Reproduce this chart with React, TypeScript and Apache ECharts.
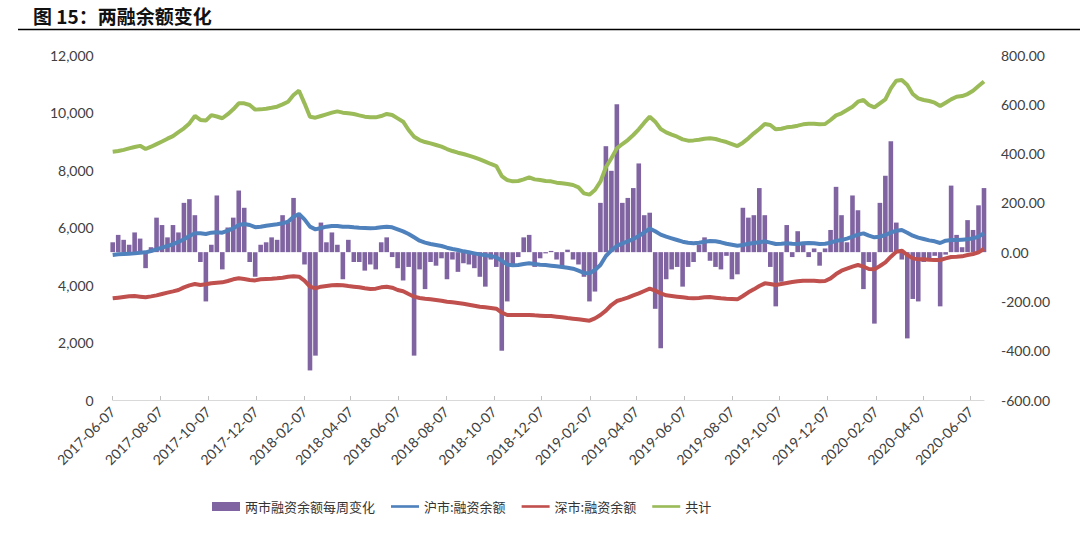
import React, { useEffect, useRef } from "react";
import * as echarts from "echarts";

// Weekly observations, first week 2017-06-07, one value every 7 calendar days.
const FIRST_WEEK = [2017, 6, 7];

// 两市融资余额每周变化 (right axis, 亿元)
const weeklyChange = [
  40, 70, 50, 30, 80, 55, -65, 20, 140, 110, 60, 110, 80, 200, 215, 150, -40, -200, 30, 230, -70, 100, 140, 250, 180, -40, -100,
  30, 40, 60, 50, 150, 120, 220, 150, -50, -480, -420, 120, 40, 80, 30, -110, 50, -40, -40, -75, -50, -70, 40, 60, -20, -65, -115,
  -60, -420, -70, -150, -40, -55, -25, -110, -30, -80, -45, -50, -65, -100, -140, -30, -60, -400, -200, -50, -20, 60, 70, -60, -25, -5,
  5, -30, -60, 10, -30, -50, -100, -200, -160, 200, 430, 330, 600, 200, 220, 260, 360, 150, 160, -230, -390, -110, -70, -60, -140, -60, -40,
  30, 60, -35, -60, -70, -15, -110, -90, 180, 140, 150, 260, 150, -60, -220, -120, 110, -20, 85, 30, -20, 15, -55, 15, 90, 265,
  150, 40, 230, 170, -150, -40, -290, 200, 310, 450, 120, -30, -350, -190, -200, -40, -30, -15, -220, -10, 270, 70, 20, 130, 90, 190, 260,
];

// 沪市:融资余额 (left axis, 亿元)
const shBalance = [
  5043, 5066, 5078, 5090, 5100, 5124, 5136, 5182, 5240, 5298, 5356, 5426, 5496, 5589, 5705, 5798, 5798, 5775, 5820, 5832, 5820, 5890, 5971, 6087, 6122, 6087, 6010,
  6029, 6064, 6087, 6110, 6145, 6203, 6376, 6469, 6284, 6029, 5936, 5983, 6029, 6052, 6052, 6029, 6029, 6006, 5994, 5983, 5971, 5983, 6006, 6029, 6006, 5936, 5866,
  5774, 5658, 5542, 5473, 5426, 5391, 5356, 5298, 5252, 5217, 5171, 5136, 5101, 5066, 5032, 5009, 4962, 4846, 4707, 4684, 4695, 4730, 4753, 4730, 4707, 4695,
  4672, 4649, 4626, 4602, 4568, 4498, 4417, 4405, 4521, 4695, 5009, 5206, 5356, 5449, 5519, 5600, 5705, 5832, 5960, 5867, 5751, 5681, 5623, 5565, 5507, 5472, 5449,
  5472, 5507, 5530, 5519, 5484, 5437, 5403, 5368, 5391, 5437, 5461, 5484, 5519, 5472, 5426, 5437, 5449, 5437, 5426, 5449, 5461, 5449, 5426, 5437, 5472, 5535,
  5565, 5612, 5681, 5751, 5797, 5716, 5658, 5681, 5739, 5820, 5890, 5913, 5820, 5716, 5646, 5600, 5553, 5519, 5461, 5542, 5565, 5565, 5577, 5588, 5623, 5681, 5800,
];

// 深市:融资余额 (left axis, 亿元)
const szBalance = [
  3536, 3559, 3582, 3605, 3617, 3594, 3571, 3605, 3640, 3687, 3733, 3779, 3826, 3919, 3988, 4035, 4000, 4023, 4058, 4081, 4093, 4139, 4197, 4232, 4209, 4174, 4160,
  4197, 4209, 4220, 4232, 4255, 4290, 4302, 4290, 4151, 3942, 3884, 3942, 3965, 3988, 4000, 3988, 3965, 3942, 3919, 3884, 3861, 3872, 3919, 3942, 3907, 3826, 3785,
  3687, 3594, 3548, 3524, 3501, 3478, 3455, 3420, 3397, 3374, 3351, 3316, 3281, 3246, 3223, 3200, 3176, 3037, 2956, 2956, 2956, 2956, 2956, 2944, 2933, 2920,
  2921, 2898, 2875, 2851, 2828, 2805, 2782, 2759, 2840, 2956, 3107, 3304, 3443, 3501, 3559, 3640, 3710, 3791, 3872, 3803, 3710, 3640, 3617, 3594, 3571, 3548, 3536,
  3548, 3571, 3582, 3559, 3536, 3524, 3513, 3501, 3617, 3745, 3849, 3965, 4058, 4035, 4000, 4035, 4070, 4104, 4128, 4151, 4151, 4151, 4128, 4139, 4232, 4380,
  4498, 4568, 4637, 4695, 4637, 4556, 4544, 4660, 4788, 4985, 5159, 5194, 5043, 4927, 4892, 4892, 4880, 4869, 4869, 4927, 4974, 4985, 4997, 5043, 5078, 5136, 5260,
];

// 共计 (left axis, 亿元)
const totalBalance = [
  8636, 8660, 8700, 8750, 8800, 8840, 8730, 8810, 8900, 8990, 9090, 9180, 9320, 9450, 9620, 9880, 9740, 9720, 9910, 9860, 9800, 9940, 10110, 10320, 10320, 10260, 10100,
  10109, 10133, 10167, 10202, 10283, 10376, 10608, 10759, 10318, 9855, 9820, 9878, 9936, 9994, 10040, 9994, 9971, 9948, 9901, 9855, 9832, 9832, 9878, 9948, 9913, 9797, 9681,
  9391, 9159, 9043, 8973, 8927, 8869, 8811, 8730, 8660, 8602, 8556, 8498, 8440, 8371, 8290, 8209, 8139, 7790, 7651, 7605, 7617, 7674, 7744, 7674, 7651, 7620,
  7605, 7559, 7536, 7513, 7478, 7397, 7188, 7142, 7304, 7594, 8093, 8406, 8753, 8904, 9043, 9217, 9414, 9646, 9855, 9681, 9426, 9310, 9229, 9159, 9066, 9020, 9030,
  9055, 9090, 9101, 9078, 9020, 8973, 8904, 8834, 8950, 9101, 9275, 9426, 9600, 9565, 9414, 9437, 9484, 9507, 9542, 9588, 9611, 9611, 9588, 9600, 9739, 9900,
  9971, 10086, 10202, 10376, 10434, 10260, 10179, 10318, 10457, 10840, 11107, 11130, 10956, 10643, 10492, 10434, 10399, 10341, 10225, 10341, 10457, 10550, 10573, 10643, 10759, 10921, 11080,
];

const tickLabels = [
  "2017-06-07", "2017-08-07", "2017-10-07", "2017-12-07", "2018-02-07", "2018-04-07", "2018-06-07",
  "2018-08-07", "2018-10-07", "2018-12-07", "2019-02-07", "2019-04-07", "2019-06-07", "2019-08-07",
  "2019-10-07", "2019-12-07", "2020-02-07", "2020-04-07", "2020-06-07",
];
const AXIS_START = "2017-06-07";
const AXIS_END = "2020-06-24";

const leftTicks = { min: 0, max: 12000, interval: 2000 };
const rightTicks = { min: -600, max: 800, interval: 200 };

const seriesNames = ["两市融资余额每周变化", "沪市:融资余额", "深市:融资余额", "共计"];
const seriesColors = ["#8064A2", "#4F81BD", "#C0504D", "#9BBB59"];

const parseDay = (s: string) => {
  const [y, m, d] = s.split("-").map(Number);
  return new Date(y, m - 1, d).getTime();
};
const pad = (n: number) => (n < 10 ? "0" + n : String(n));
const formatDay = (t: number) => {
  const d = new Date(t);
  return `${d.getFullYear()}-${pad(d.getMonth() + 1)}-${pad(d.getDate())}`;
};

const weekDates = totalBalance.map((_, i) =>
  new Date(FIRST_WEEK[0], FIRST_WEEK[1] - 1, FIRST_WEEK[2] + 7 * i).getTime()
);
const pair = (values: number[]) => values.map((v, i) => [weekDates[i], v]);

const LABEL_FONT = "Lato, 'Open Sans', sans-serif";
const CJK_FONT = "'Noto Sans CJK SC', sans-serif";

export default function App() {
  const ref = useRef<HTMLDivElement>(null);

  useEffect(() => {
    if (!ref.current) return;
    const chart = echarts.init(ref.current, undefined, { renderer: "svg" });
    const tickValues = tickLabels.map(parseDay);
    const lineSeries = (idx: number, values: number[]) => ({
      name: seriesNames[idx],
      type: "line",
      yAxisIndex: 0,
      data: pair(values),
      symbol: "none",
      lineStyle: { color: seriesColors[idx], width: 4 },
      itemStyle: { color: seriesColors[idx] },
      z: 3 + idx,
    });
    const lineIcon = "path://M0 0H32V3H0Z";

    chart.setOption({
      animation: false,
      backgroundColor: "#ffffff",
      grid: { left: 112.7, right: 96, top: 55, bottom: 136, containLabel: false, outerBoundsMode: "none" },
      graphic: [
        {
          type: "text",
          x: 33,
          y: 15,
          style: {
            text: "图 15：两融余额变化",
            font: `bold 19px ${CJK_FONT}`,
            fill: "#111",
            textVerticalAlign: "middle",
            verticalAlign: "middle",
          },
        },
        {
          type: "line",
          shape: { x1: 18, y1: 29.5, x2: 1080, y2: 29.5 },
          style: { stroke: "#000", lineWidth: 1.6 },
        },
      ],
      legend: {
        left: 212,
        top: 500,
        padding: 0,
        itemGap: 16,
        itemWidth: 28,
        itemHeight: 9,
        textStyle: { fontFamily: CJK_FONT, fontSize: 13, color: "#333" },
        data: [
          { name: seriesNames[0], icon: "rect" },
          { name: seriesNames[1], icon: lineIcon },
          { name: seriesNames[2], icon: lineIcon },
          { name: seriesNames[3], icon: lineIcon },
        ],
      },
      xAxis: {
        type: "value",
        min: parseDay(AXIS_START),
        max: parseDay(AXIS_END),
        axisLine: { show: true, onZero: false, lineStyle: { color: "#D9D9D9", width: 1 } },
        axisTick: {
          show: true,
          inside: true,
          length: 4,
          customValues: tickValues,
          lineStyle: { color: "#BFBFBF" },
        },
        axisLabel: {
          customValues: tickValues,
          formatter: (v: number) => formatDay(v),
          rotate: 45,
          margin: 9,
          fontFamily: LABEL_FONT,
          fontSize: 14,
          color: "#404040",
        },
        splitLine: { show: false },
      },
      yAxis: [
        {
          type: "value",
          position: "left",
          ...leftTicks,
          axisLine: { show: false },
          axisTick: { show: false },
          splitLine: { show: false },
          axisLabel: {
            margin: 19,
            fontFamily: LABEL_FONT,
            fontSize: 14,
            color: "#404040",
            formatter: (v: number) => v.toLocaleString("en-US"),
          },
        },
        {
          type: "value",
          position: "right",
          ...rightTicks,
          axisLine: { show: false },
          axisTick: { show: false },
          splitLine: { show: false },
          axisLabel: {
            margin: 17,
            fontFamily: LABEL_FONT,
            fontSize: 14,
            color: "#404040",
            formatter: (v: number) => v.toFixed(2),
          },
        },
      ],
      series: [
        {
          name: seriesNames[0],
          type: "bar",
          yAxisIndex: 1,
          data: pair(weeklyChange),
          barWidth: 4.6,
          itemStyle: { color: seriesColors[0] },
          z: 2,
        },
        lineSeries(1, shBalance),
        lineSeries(2, szBalance),
        lineSeries(3, totalBalance),
      ],
    });

    return () => chart.dispose();
  }, []);

  return (
    <div
      ref={ref}
      style={{ position: "fixed", left: 0, top: 0, width: 1080, height: 536, background: "#fff" }}
    />
  );
}
